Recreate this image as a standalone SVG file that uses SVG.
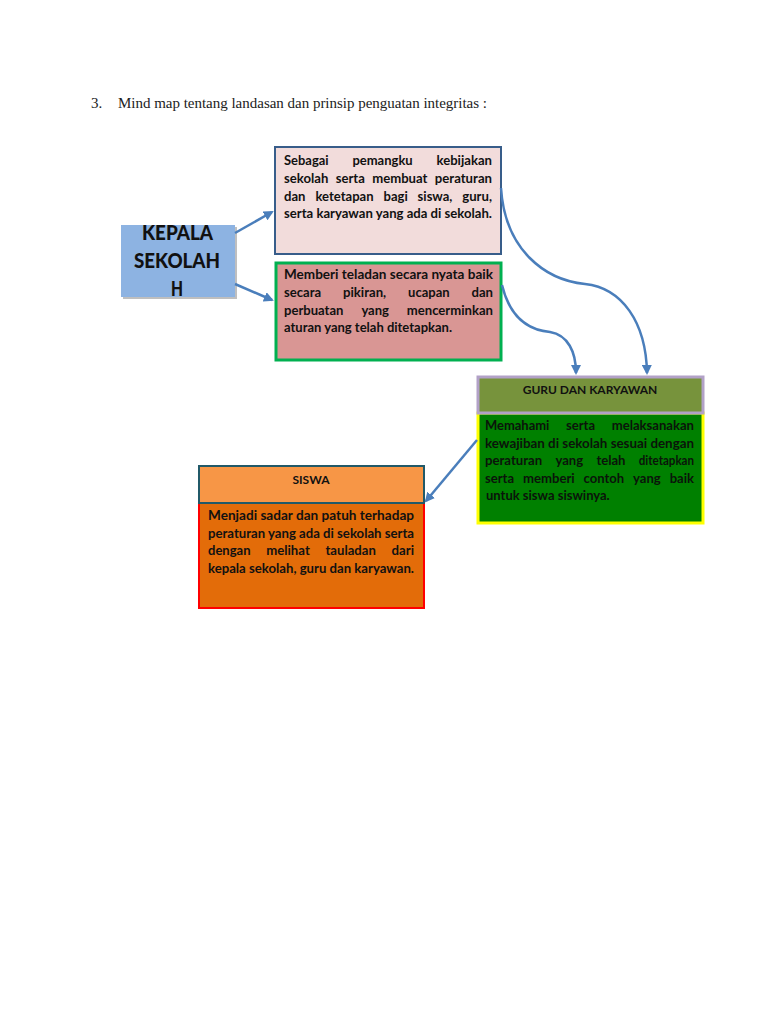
<svg xmlns="http://www.w3.org/2000/svg" width="768" height="1024" viewBox="0 0 768 1024">
<style>
.t{font-family:Lato,"Open Sans","Liberation Sans",sans-serif;font-weight:bold;font-size:13px;fill:#111}
.h{font-family:Lato,"Open Sans","Liberation Sans",sans-serif;font-weight:bold;font-size:12px;fill:#111;text-anchor:middle}
.g{fill:#0a140a}
.ttl{font-family:"Liberation Serif",serif;font-size:15px;fill:#222}
.big{font-family:Lato,"Open Sans","Liberation Sans",sans-serif;font-weight:900;font-size:20px;fill:#111}
.c{fill:none;stroke:#4A7EBB;stroke-width:2.5}
</style>
<defs>
<marker id="ah" viewBox="0 0 10 10" refX="8" refY="5" markerWidth="4" markerHeight="4" orient="auto" markerUnits="strokeWidth">
<path d="M0,0 L10,5 L0,10 z" fill="#4A7EBB"/>
</marker>
</defs>
<rect width="768" height="1024" fill="#fff"/>
<g id="title">
<text class="ttl" x="91" y="108">3.</text>
<text class="ttl" x="118" y="108" textLength="369" lengthAdjust="spacing">Mind map tentang landasan dan prinsip penguatan integritas :</text>
</g>
<g id="kepala">
<rect x="123" y="227" width="114" height="72" fill="#bfbfbf"/>
<rect x="121" y="225" width="114" height="72" fill="#8DB3E2"/>
<text class="big" x="142" y="240" textLength="71" lengthAdjust="spacingAndGlyphs">KEPALA</text>
<text class="big" x="134" y="268" textLength="86" lengthAdjust="spacingAndGlyphs">SEKOLAH</text>
<text class="big" x="171" y="296" textLength="12" lengthAdjust="spacingAndGlyphs">H</text>
</g>
<g id="box1">
<rect x="275" y="147" width="226" height="107" fill="#F2DCDB" stroke="#385D8A" stroke-width="2"/>
<text class="t" x="284" y="165" textLength="44.6" lengthAdjust="spacingAndGlyphs">Sebagai</text>
<text class="t" x="352.4" y="165" textLength="60.3" lengthAdjust="spacingAndGlyphs">pemangku</text>
<text class="t" x="436.5" y="165" textLength="55.5" lengthAdjust="spacingAndGlyphs">kebijakan</text>
<text class="t" x="284" y="183" textLength="44.3" lengthAdjust="spacingAndGlyphs">sekolah</text>
<text class="t" x="335.7" y="183" textLength="29.1" lengthAdjust="spacingAndGlyphs">serta</text>
<text class="t" x="372.2" y="183" textLength="55.3" lengthAdjust="spacingAndGlyphs">membuat</text>
<text class="t" x="434.8" y="183" textLength="57.2" lengthAdjust="spacingAndGlyphs">peraturan</text>
<text class="t" x="284" y="201" textLength="21.5" lengthAdjust="spacingAndGlyphs">dan</text>
<text class="t" x="315.4" y="201" textLength="58.2" lengthAdjust="spacingAndGlyphs">ketetapan</text>
<text class="t" x="383.5" y="201" textLength="24.2" lengthAdjust="spacingAndGlyphs">bagi</text>
<text class="t" x="417.6" y="201" textLength="34.8" lengthAdjust="spacingAndGlyphs">siswa,</text>
<text class="t" x="462.2" y="201" textLength="29.8" lengthAdjust="spacingAndGlyphs">guru,</text>
<text class="t" x="284" y="218" textLength="208" lengthAdjust="spacingAndGlyphs">serta karyawan yang ada di sekolah.</text>
</g>
<g id="box2">
<rect x="276" y="263" width="225" height="97" fill="#D99694" stroke="#00B050" stroke-width="3"/>
<text class="t" x="284" y="279" textLength="209" lengthAdjust="spacingAndGlyphs">Memberi teladan secara nyata baik</text>
<text class="t" x="284" y="297" textLength="37.1" lengthAdjust="spacingAndGlyphs">secara</text>
<text class="t" x="343" y="297" textLength="43.2" lengthAdjust="spacingAndGlyphs">pikiran,</text>
<text class="t" x="408.1" y="297" textLength="41.5" lengthAdjust="spacingAndGlyphs">ucapan</text>
<text class="t" x="471.5" y="297" textLength="21.5" lengthAdjust="spacingAndGlyphs">dan</text>
<text class="t" x="284" y="315" textLength="59.5" lengthAdjust="spacingAndGlyphs">perbuatan</text>
<text class="t" x="361.4" y="315" textLength="27.6" lengthAdjust="spacingAndGlyphs">yang</text>
<text class="t" x="406.8" y="315" textLength="86.2" lengthAdjust="spacingAndGlyphs">mencerminkan</text>
<text class="t" x="284" y="332">aturan yang telah ditetapkan.</text>
</g>
<g id="guru">
<rect x="478" y="413" width="225" height="110" fill="#008000" stroke="#FFFF00" stroke-width="3"/>
<rect x="478" y="377" width="225" height="36" fill="#77933C" stroke="#B2A1C7" stroke-width="3"/>
<text class="h" x="590" y="394">GURU DAN KARYAWAN</text>
<text class="t g" x="485" y="430" textLength="64.4" lengthAdjust="spacingAndGlyphs">Memahami</text>
<text class="t g" x="566" y="430" textLength="29.1" lengthAdjust="spacingAndGlyphs">serta</text>
<text class="t g" x="611.8" y="430" textLength="82.2" lengthAdjust="spacingAndGlyphs">melaksanakan</text>
<text class="t g" x="485" y="448" textLength="209" lengthAdjust="spacingAndGlyphs">kewajiban di sekolah sesuai dengan</text>
<text class="t g" x="485" y="465" textLength="57.2" lengthAdjust="spacingAndGlyphs">peraturan</text>
<text class="t g" x="555.5" y="465" textLength="27.6" lengthAdjust="spacingAndGlyphs">yang</text>
<text class="t g" x="596.4" y="465" textLength="29.1" lengthAdjust="spacingAndGlyphs">telah</text>
<text class="t g" x="638.8" y="465" textLength="55.2" lengthAdjust="spacingAndGlyphs">ditetapkan</text>
<text class="t g" x="485" y="483" textLength="29.1" lengthAdjust="spacingAndGlyphs">serta</text>
<text class="t g" x="523" y="483" textLength="51.7" lengthAdjust="spacingAndGlyphs">memberi</text>
<text class="t g" x="583.6" y="483" textLength="40.6" lengthAdjust="spacingAndGlyphs">contoh</text>
<text class="t g" x="633.1" y="483" textLength="27.6" lengthAdjust="spacingAndGlyphs">yang</text>
<text class="t g" x="669.7" y="483" textLength="24.3" lengthAdjust="spacingAndGlyphs">baik</text>
<text class="t g" x="486" y="500">untuk siswa siswinya.</text>
</g>
<g id="siswa">
<rect x="199" y="503" width="225" height="105" fill="#E36C09" stroke="#FF0000" stroke-width="2"/>
<rect x="199" y="466" width="225" height="37" fill="#F79646" stroke="#215968" stroke-width="2"/>
<text class="h" x="311" y="484">SISWA</text>
<text class="t" x="208" y="520" textLength="206" lengthAdjust="spacingAndGlyphs">Menjadi sadar dan patuh terhadap</text>
<text class="t" x="208" y="538" textLength="206" lengthAdjust="spacingAndGlyphs">peraturan yang ada di sekolah serta</text>
<text class="t" x="208" y="555" textLength="42.5" lengthAdjust="spacingAndGlyphs">dengan</text>
<text class="t" x="266.2" y="555" textLength="43.6" lengthAdjust="spacingAndGlyphs">melihat</text>
<text class="t" x="325.5" y="555" textLength="50.3" lengthAdjust="spacingAndGlyphs">tauladan</text>
<text class="t" x="391.5" y="555" textLength="22.5" lengthAdjust="spacingAndGlyphs">dari</text>
<text class="t" x="208" y="573" textLength="206" lengthAdjust="spacingAndGlyphs">kepala sekolah, guru dan karyawan.</text>
</g>
<g id="connectors">
<path class="c" d="M235,233 L272,212" marker-end="url(#ah)"/>
<path class="c" d="M235,284 L272,300" marker-end="url(#ah)"/>
<path class="c" d="M501,188 C505,250 545,280 585,284 C622,288 646,322 647,373" marker-end="url(#ah)"/>
<path class="c" d="M502,285 C510,318 528,330 550,332 C568,335 576,352 576,373" marker-end="url(#ah)"/>
<path class="c" d="M477,440 L426,501" marker-end="url(#ah)"/>
</g>
</svg>
